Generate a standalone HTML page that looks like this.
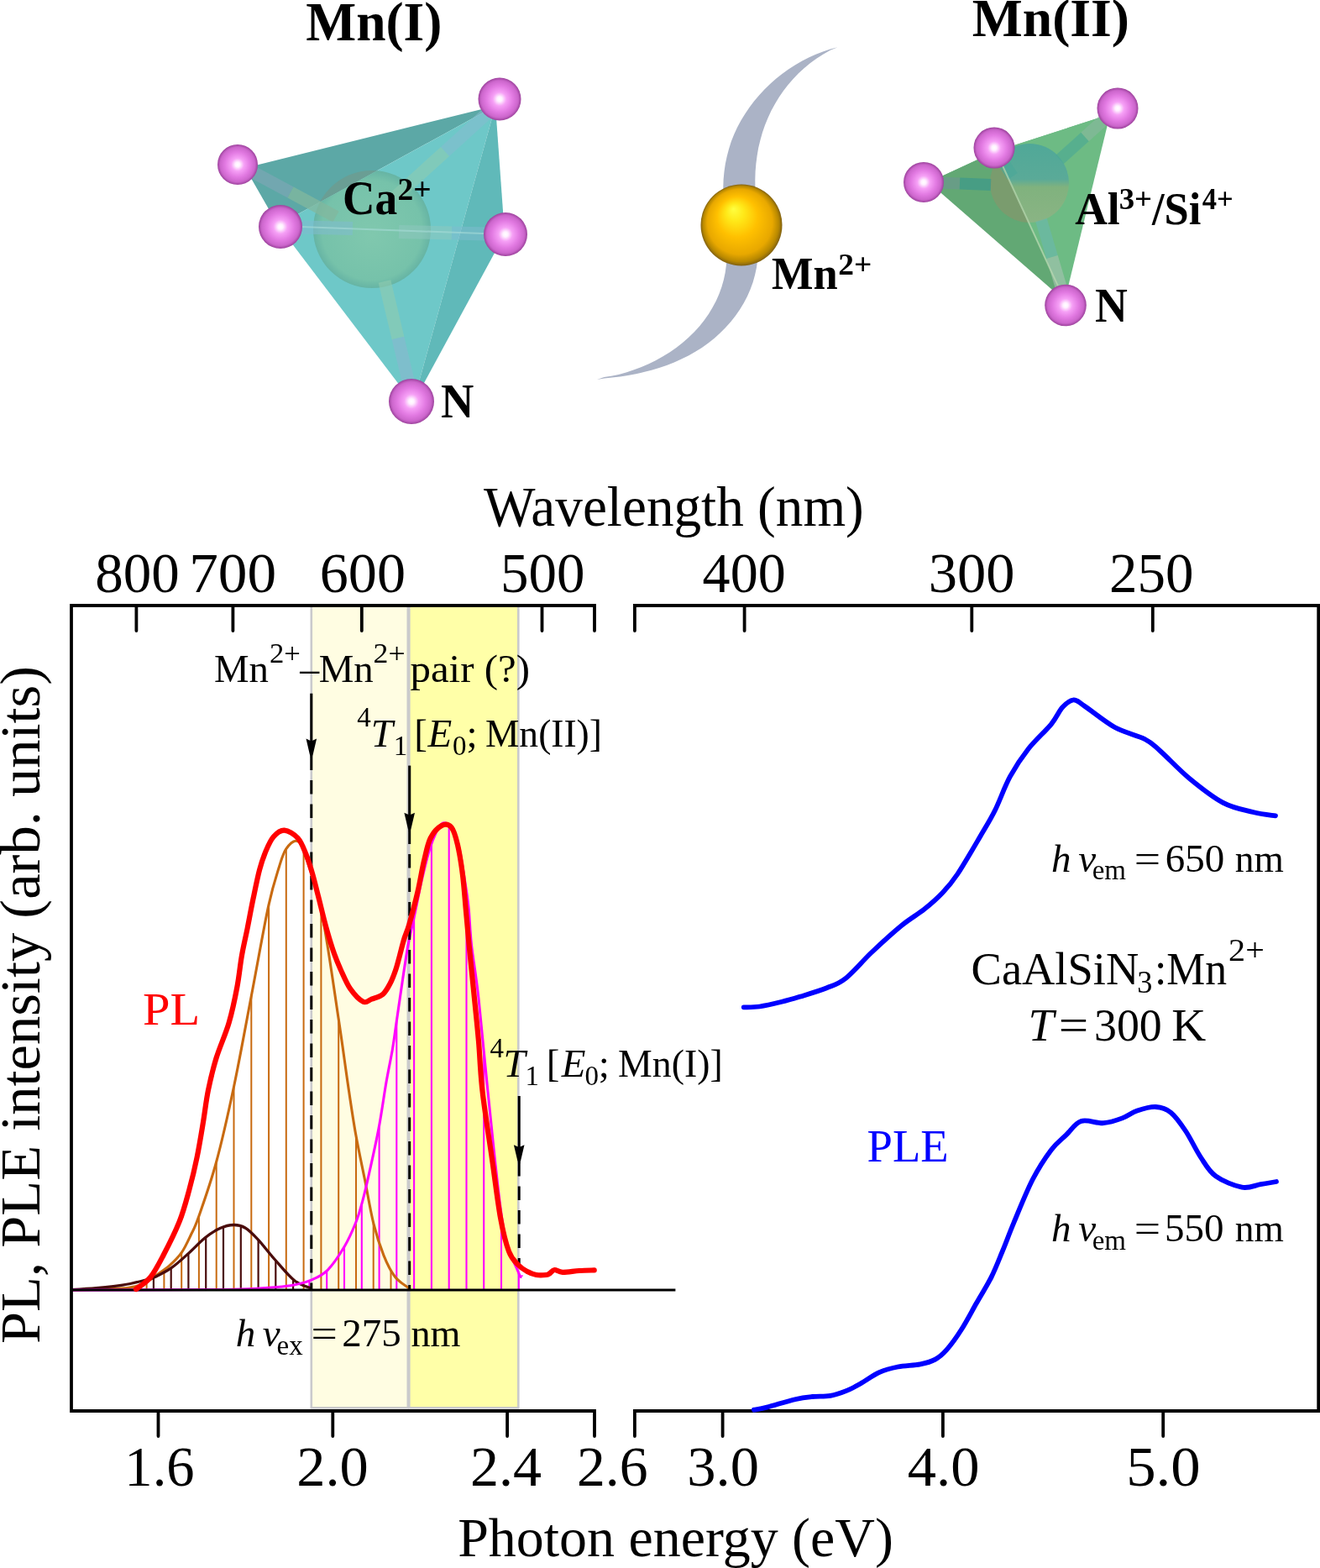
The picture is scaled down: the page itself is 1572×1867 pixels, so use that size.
<!DOCTYPE html><html><head><meta charset="utf-8"><style>html,body{margin:0;padding:0;background:#fff;overflow:hidden}svg{display:block}</style></head><body><svg width="1572" height="1867" viewBox="0 0 1572 1867" font-family="'Liberation Serif', serif">
<rect width="100%" height="100%" fill="#fff"/>
<defs>
<radialGradient id="gN" cx="0.5" cy="0.5" r="0.5" fx="0.5" fy="0.5">
 <stop offset="0" stop-color="#ffffff"/>
 <stop offset="0.12" stop-color="#fff0ff"/>
 <stop offset="0.32" stop-color="#f6a0f6"/>
 <stop offset="0.62" stop-color="#e27ae2"/>
 <stop offset="0.86" stop-color="#cc66cc"/>
 <stop offset="1" stop-color="#9c429c"/>
</radialGradient>
<radialGradient id="gAu" cx="0.5" cy="0.5" r="0.5" fx="0.4" fy="0.3">
 <stop offset="0" stop-color="#ffff40"/>
 <stop offset="0.22" stop-color="#ffe818"/>
 <stop offset="0.5" stop-color="#ffc000"/>
 <stop offset="0.8" stop-color="#e8a800"/>
 <stop offset="0.93" stop-color="#b88800"/>
 <stop offset="1" stop-color="#806010"/>
</radialGradient>
<radialGradient id="gCa" cx="0.5" cy="0.5" r="0.5" fx="0.5" fy="0.55">
 <stop offset="0" stop-color="#80c8ae"/>
 <stop offset="0.85" stop-color="#76c2aa"/>
 <stop offset="1" stop-color="#66b4a4"/>
</radialGradient>
<linearGradient id="gAl" x1="0" y1="0" x2="0" y2="1">
 <stop offset="0" stop-color="#50a898"/>
 <stop offset="0.45" stop-color="#5aaa98"/>
 <stop offset="0.55" stop-color="#80b27e"/>
 <stop offset="1" stop-color="#8ab484"/>
</linearGradient>
</defs>
<clipPath id="cpTop"><polygon points="292,200 590,126 331,268"/></clipPath>
<clipPath id="cpFront"><polygon points="331,268 590,126 492,480"/></clipPath>
<clipPath id="cpRight"><polygon points="590,126 601,279 492,480"/></clipPath>
<polygon points="292,200 590,126 331,268" fill="#5ca8a6"/>
<polygon points="331,268 590,126 492,480" fill="#6ec8c8"/>
<polygon points="590,126 601,279 492,480" fill="#60b9b9"/>
<g clip-path="url(#cpTop)"><circle cx="443" cy="273" r="70" fill="#6a9e94"/></g>
<g clip-path="url(#cpFront)"><circle cx="443" cy="273" r="70" fill="url(#gCa)"/></g>
<g clip-path="url(#cpRight)"><circle cx="443" cy="273" r="70" fill="#72bcaa"/></g>
<line x1="292" y1="200" x2="346.0" y2="229.0" stroke="#7aa7b4" stroke-width="15" opacity="0.75"/>
<line x1="346.0" y1="229.0" x2="400" y2="258" stroke="#82b89e" stroke-width="15" opacity="0.75"/>
<line x1="590" y1="126" x2="530.0" y2="180.5" stroke="#86bcd0" stroke-width="15" opacity="0.55"/>
<line x1="530.0" y1="180.5" x2="470" y2="235" stroke="#90ccb0" stroke-width="15" opacity="0.55"/>
<line x1="336" y1="270" x2="378.0" y2="271.0" stroke="#80bcd0" stroke-width="16" opacity="0.55"/>
<line x1="378.0" y1="271.0" x2="420" y2="272" stroke="#80bcd0" stroke-width="16" opacity="0.55"/>
<line x1="475" y1="276" x2="538.0" y2="277.5" stroke="#90c8c0" stroke-width="16" opacity="0.5"/>
<line x1="538.0" y1="277.5" x2="601" y2="279" stroke="#80bcd0" stroke-width="16" opacity="0.5"/>
<line x1="458" y1="335" x2="474.0" y2="402.5" stroke="#90ccb0" stroke-width="15" opacity="0.6"/>
<line x1="474.0" y1="402.5" x2="490" y2="470" stroke="#8ab8d0" stroke-width="15" opacity="0.6"/>
<line x1="331" y1="269" x2="601" y2="279" stroke="#a8dcd8" stroke-width="2" opacity="0.6"/>
<circle cx="283" cy="196" r="24" fill="url(#gN)"/>
<circle cx="595" cy="118" r="25.5" fill="url(#gN)"/>
<circle cx="334" cy="270" r="26" fill="url(#gN)"/>
<circle cx="602" cy="279" r="26" fill="url(#gN)"/>
<circle cx="490" cy="478" r="27" fill="url(#gN)"/>
<path d="M997.6,56.3 L988.7,58.5 L980.0,61.4 L971.5,64.7 L963.1,68.5 L954.9,72.7 L946.8,77.4 L939.0,82.5 L931.4,88.0 L924.1,93.8 L917.1,100.0 L910.4,106.5 L904.0,113.4 L898.0,120.5 L892.4,128.0 L887.2,135.7 L882.4,143.6 L878.0,151.7 L874.2,160.1 L870.8,168.6 L868.0,177.4 L865.7,186.2 L863.8,195.2 L862.5,204.3 L861.6,213.5 L861.3,222.8 L861.4,232.1 L861.8,241.5 L862.5,250.9 L863.3,260.3 L864.1,269.6 L864.8,279.0 L865.4,288.2 L865.7,297.4 L865.5,306.5 L864.9,315.5 L863.7,324.4 L861.9,333.1 L859.4,341.7 L856.4,350.0 L852.8,358.2 L848.6,366.1 L844.0,373.8 L838.7,381.3 L833.0,388.4 L826.8,395.3 L820.1,401.8 L813.0,408.1 L805.4,413.9 L797.5,419.4 L789.2,424.5 L780.8,429.2 L772.1,433.5 L763.3,437.3 L754.4,440.6 L745.6,443.5 L736.7,445.9 L728.0,447.7 L719.5,449.0 L710.9,452.1 L710.9,452.1 L719.6,450.4 L729.0,449.6 L738.5,448.4 L747.9,447.0 L757.3,445.2 L766.7,443.1 L775.9,440.7 L785.0,438.0 L794.0,434.9 L802.9,431.4 L811.5,427.6 L819.9,423.4 L828.1,418.8 L835.9,413.9 L843.5,408.5 L850.8,402.7 L857.6,396.6 L864.1,390.1 L870.2,383.2 L875.9,376.1 L881.1,368.6 L885.8,360.8 L890.0,352.8 L893.6,344.5 L896.7,336.0 L899.1,327.3 L901.0,318.4 L902.2,309.3 L902.8,300.1 L903.0,290.8 L902.8,281.3 L902.4,271.8 L901.8,262.2 L901.1,252.5 L900.4,242.8 L899.8,233.2 L899.4,223.5 L899.3,213.9 L899.6,204.3 L900.4,194.8 L901.6,185.4 L903.2,176.1 L905.4,166.9 L907.9,157.9 L911.0,149.1 L914.5,140.5 L918.4,132.1 L922.8,123.9 L927.6,116.0 L932.9,108.3 L938.5,101.0 L944.6,94.0 L951.0,87.3 L957.9,81.0 L965.1,75.0 L972.7,69.5 L980.6,64.4 L988.9,59.7 L997.6,56.3 Z" fill="#abb3c6"/>
<circle cx="883" cy="268" r="48.5" fill="url(#gAu)"/>
<clipPath id="cpL"><polygon points="1106,217 1186,180 1268,358"/></clipPath>
<clipPath id="cpR"><polygon points="1186,180 1322,136 1268,358"/></clipPath>
<polygon points="1106,217 1186,180 1322,136" fill="#6bb882"/>
<polygon points="1106,217 1186,180 1268,358" fill="#62a874"/>
<polygon points="1186,180 1322,136 1268,358" fill="#6dbb84"/>
<g clip-path="url(#cpL)"><circle cx="1226" cy="218" r="47" fill="#7a9c6e"/></g>
<g clip-path="url(#cpR)"><circle cx="1226" cy="218" r="47" fill="url(#gAl)"/></g>
<line x1="1106" y1="217" x2="1143.0" y2="218.5" stroke="#6a9a8c" stroke-width="14" opacity="0.75"/>
<line x1="1143.0" y1="218.5" x2="1180" y2="220" stroke="#3e9a8a" stroke-width="14" opacity="0.75"/>
<line x1="1322" y1="136" x2="1292.0" y2="163.0" stroke="#8ab8a0" stroke-width="14" opacity="0.6"/>
<line x1="1292.0" y1="163.0" x2="1262" y2="190" stroke="#4aa896" stroke-width="14" opacity="0.6"/>
<line x1="1186" y1="180" x2="1196.0" y2="195.0" stroke="#4aa898" stroke-width="14" opacity="0.6"/>
<line x1="1196.0" y1="195.0" x2="1206" y2="210" stroke="#4aa898" stroke-width="14" opacity="0.6"/>
<line x1="1240" y1="262" x2="1253.0" y2="306.0" stroke="#6ab8b0" stroke-width="14" opacity="0.6"/>
<line x1="1253.0" y1="306.0" x2="1266" y2="350" stroke="#a8c4b4" stroke-width="14" opacity="0.6"/>
<line x1="1186" y1="180" x2="1268" y2="358" stroke="#b8d8b0" stroke-width="2" opacity="0.7"/>
<circle cx="1331" cy="129" r="24.5" fill="url(#gN)"/>
<circle cx="1184" cy="176" r="24.5" fill="url(#gN)"/>
<circle cx="1100" cy="217" r="24" fill="url(#gN)"/>
<circle cx="1269" cy="363.5" r="24.8" fill="url(#gN)"/>
<rect x="370.8" y="721" width="115" height="955.3" fill="#fffde2" stroke="#cacacc" stroke-width="2.6"/>
<rect x="487.3" y="721" width="130" height="955.3" fill="#ffffa8" stroke="#cacacc" stroke-width="2.6"/>
<line x1="153.8" y1="1533.3" x2="153.8" y2="1536.1" stroke="#c86a10" stroke-width="2"/>
<line x1="174.6" y1="1526.7" x2="174.6" y2="1536.1" stroke="#c86a10" stroke-width="2"/>
<line x1="195.4" y1="1512.1" x2="195.4" y2="1536.1" stroke="#c86a10" stroke-width="2"/>
<line x1="216.2" y1="1491.6" x2="216.2" y2="1536.1" stroke="#c86a10" stroke-width="2"/>
<line x1="236.9" y1="1447.7" x2="236.9" y2="1536.1" stroke="#c86a10" stroke-width="2"/>
<line x1="257.7" y1="1383.2" x2="257.7" y2="1536.1" stroke="#c86a10" stroke-width="2"/>
<line x1="278.5" y1="1294.0" x2="278.5" y2="1536.1" stroke="#c86a10" stroke-width="2"/>
<line x1="299.3" y1="1186.1" x2="299.3" y2="1536.1" stroke="#c86a10" stroke-width="2"/>
<line x1="320.1" y1="1077.2" x2="320.1" y2="1536.1" stroke="#c86a10" stroke-width="2"/>
<line x1="340.8" y1="1010.7" x2="340.8" y2="1536.1" stroke="#c86a10" stroke-width="2"/>
<line x1="361.6" y1="1012.9" x2="361.6" y2="1536.1" stroke="#c86a10" stroke-width="2"/>
<line x1="382.4" y1="1083.1" x2="382.4" y2="1536.1" stroke="#c86a10" stroke-width="2"/>
<line x1="403.2" y1="1213.2" x2="403.2" y2="1536.1" stroke="#c86a10" stroke-width="2"/>
<line x1="424.0" y1="1352.3" x2="424.0" y2="1536.1" stroke="#c86a10" stroke-width="2"/>
<line x1="444.7" y1="1456.3" x2="444.7" y2="1536.1" stroke="#c86a10" stroke-width="2"/>
<line x1="465.5" y1="1512.9" x2="465.5" y2="1536.1" stroke="#c86a10" stroke-width="2"/>
<line x1="486.3" y1="1533.3" x2="486.3" y2="1536.1" stroke="#c86a10" stroke-width="2"/>
<line x1="182.9" y1="1521.2" x2="182.9" y2="1536.1" stroke="#4a0c0c" stroke-width="2.2"/>
<line x1="203.7" y1="1510.0" x2="203.7" y2="1536.1" stroke="#4a0c0c" stroke-width="2.2"/>
<line x1="224.4" y1="1492.5" x2="224.4" y2="1536.1" stroke="#4a0c0c" stroke-width="2.2"/>
<line x1="245.2" y1="1473.0" x2="245.2" y2="1536.1" stroke="#4a0c0c" stroke-width="2.2"/>
<line x1="266.0" y1="1460.9" x2="266.0" y2="1536.1" stroke="#4a0c0c" stroke-width="2.2"/>
<line x1="286.8" y1="1459.6" x2="286.8" y2="1536.1" stroke="#4a0c0c" stroke-width="2.2"/>
<line x1="307.6" y1="1476.2" x2="307.6" y2="1536.1" stroke="#4a0c0c" stroke-width="2.2"/>
<line x1="328.3" y1="1500.9" x2="328.3" y2="1536.1" stroke="#4a0c0c" stroke-width="2.2"/>
<line x1="349.1" y1="1523.4" x2="349.1" y2="1536.1" stroke="#4a0c0c" stroke-width="2.2"/>
<line x1="369.9" y1="1533.7" x2="369.9" y2="1536.1" stroke="#4a0c0c" stroke-width="2.2"/>
<line x1="617.8" y1="1516.0" x2="617.8" y2="1536.1" stroke="#ff00ff" stroke-width="2.1"/>
<line x1="597.0" y1="1445.9" x2="597.0" y2="1536.1" stroke="#ff00ff" stroke-width="2.1"/>
<line x1="576.2" y1="1252.7" x2="576.2" y2="1536.1" stroke="#ff00ff" stroke-width="2.1"/>
<line x1="555.5" y1="1060.6" x2="555.5" y2="1536.1" stroke="#ff00ff" stroke-width="2.1"/>
<line x1="534.7" y1="981.9" x2="534.7" y2="1536.1" stroke="#ff00ff" stroke-width="2.1"/>
<line x1="513.9" y1="1004.1" x2="513.9" y2="1536.1" stroke="#ff00ff" stroke-width="2.1"/>
<line x1="493.1" y1="1092.2" x2="493.1" y2="1536.1" stroke="#ff00ff" stroke-width="2.1"/>
<line x1="472.3" y1="1215.6" x2="472.3" y2="1536.1" stroke="#ff00ff" stroke-width="2.1"/>
<line x1="451.6" y1="1340.6" x2="451.6" y2="1536.1" stroke="#ff00ff" stroke-width="2.1"/>
<line x1="430.8" y1="1433.6" x2="430.8" y2="1536.1" stroke="#ff00ff" stroke-width="2.1"/>
<line x1="410.0" y1="1484.5" x2="410.0" y2="1536.1" stroke="#ff00ff" stroke-width="2.1"/>
<line x1="389.2" y1="1513.2" x2="389.2" y2="1536.1" stroke="#ff00ff" stroke-width="2.1"/>
<line x1="368.4" y1="1525.1" x2="368.4" y2="1536.1" stroke="#ff00ff" stroke-width="2.1"/>
<path d="M85.0,1536.1 C90.8,1535.9 108.6,1535.5 120.0,1535.0 C131.4,1534.5 144.5,1534.6 153.2,1533.4 C161.9,1532.2 166.6,1530.5 172.0,1528.0 C177.4,1525.5 181.0,1521.9 185.8,1518.5 C190.6,1515.1 195.9,1512.2 201.0,1507.7 C206.1,1503.2 211.9,1497.7 216.3,1491.4 C220.7,1485.1 224.1,1477.1 227.5,1470.0 C230.9,1462.9 231.5,1463.3 236.5,1449.0 C241.5,1434.7 250.5,1409.8 257.5,1384.0 C264.5,1358.2 271.5,1327.2 278.5,1294.0 C285.5,1260.8 292.6,1220.9 299.5,1185.0 C306.4,1149.1 314.2,1104.1 319.8,1078.4 C325.4,1052.7 329.4,1042.2 332.8,1031.0 C336.2,1019.8 337.2,1016.2 340.5,1011.2 C343.8,1006.2 349.1,1000.7 352.7,1001.3 C356.3,1001.9 357.3,1000.9 362.4,1015.0 C367.4,1029.1 376.2,1053.2 383.0,1086.0 C389.8,1118.8 397.8,1178.0 403.0,1212.0 C408.2,1246.0 410.8,1267.0 414.2,1290.0 C417.6,1313.0 420.2,1331.3 423.6,1350.3 C427.0,1369.3 430.7,1385.9 434.3,1403.8 C437.9,1421.7 441.2,1442.2 445.0,1457.4 C448.8,1472.6 452.8,1484.4 457.0,1494.9 C461.2,1505.4 465.5,1513.9 470.4,1520.3 C475.3,1526.7 483.8,1531.3 486.5,1533.5" fill="none" stroke="#c86a10" stroke-width="3.1"/>
<path d="M85.0,1535.6 C89.9,1535.3 106.2,1534.3 114.5,1533.6 C122.8,1532.9 128.1,1532.4 134.9,1531.6 C141.7,1530.8 148.8,1529.8 155.2,1528.5 C161.6,1527.2 168.5,1525.4 173.6,1524.0 C178.7,1522.6 180.7,1522.3 185.8,1519.9 C190.9,1517.5 197.8,1514.1 204.1,1509.7 C210.4,1505.3 216.8,1499.4 223.4,1493.4 C230.1,1487.5 237.6,1479.2 244.0,1474.0 C250.4,1468.8 256.2,1465.1 262.0,1462.5 C267.8,1459.9 273.5,1458.6 278.5,1458.5 C283.5,1458.4 287.2,1459.2 292.0,1462.0 C296.8,1464.8 301.0,1469.2 307.0,1475.6 C313.0,1482.0 320.7,1492.3 328.0,1500.5 C335.3,1508.7 343.8,1519.4 351.0,1525.0 C358.2,1530.6 367.7,1532.6 371.0,1534.1" fill="none" stroke="#4a0c0c" stroke-width="3.3"/>
<path d="M85.0,1536.1 C112.5,1536.0 214.2,1535.8 250.0,1535.5 C285.8,1535.2 286.7,1535.0 300.0,1534.5 C313.3,1534.0 321.7,1533.2 330.0,1532.5 C338.3,1531.8 343.3,1531.3 350.0,1530.0 C356.7,1528.7 363.3,1527.4 370.0,1524.4 C376.7,1521.5 383.4,1519.0 390.1,1512.3 C396.8,1505.6 404.6,1493.6 410.2,1484.2 C415.8,1474.8 420.0,1464.9 423.6,1456.0 C427.2,1447.1 428.9,1440.4 431.6,1430.6 C434.3,1420.8 436.4,1411.6 439.6,1397.1 C442.8,1382.6 447.6,1361.7 451.0,1343.6 C454.4,1325.5 457.3,1304.2 460.0,1288.6 C462.7,1273.0 465.2,1262.3 467.3,1250.0 C469.4,1237.7 470.6,1227.8 472.5,1214.5 C474.4,1201.2 476.8,1184.8 479.0,1170.0 C481.2,1155.2 483.6,1138.7 486.0,1125.4 C488.4,1112.1 490.8,1103.4 493.6,1090.0 C496.4,1076.6 499.9,1058.3 503.0,1045.0 C506.1,1031.7 509.3,1018.8 512.0,1010.0 C514.7,1001.2 516.7,996.8 519.0,992.0 C521.3,987.2 523.7,982.8 526.0,981.0 C528.3,979.2 530.7,979.8 533.0,981.0 C535.3,982.2 537.7,983.2 540.0,988.0 C542.3,992.8 544.8,1000.5 547.0,1010.0 C549.2,1019.5 551.2,1033.3 553.0,1045.0 C554.8,1056.7 556.6,1066.7 558.0,1080.0 C559.4,1093.3 559.5,1106.8 561.5,1125.0 C563.5,1143.2 566.8,1159.8 570.0,1189.0 C573.2,1218.2 576.2,1255.0 581.0,1300.0 C585.8,1345.0 593.0,1423.1 599.0,1458.8 C605.0,1494.5 613.2,1503.8 617.0,1514.0 C620.8,1524.2 621.2,1519.0 622.0,1520.0" fill="none" stroke="#ff00ff" stroke-width="3.1"/>
<line x1="85" y1="1536.1" x2="804.4" y2="1536.1" stroke="#000" stroke-width="3"/>
<line x1="370.8" y1="825.7" x2="370.8" y2="884.4" stroke="#000" stroke-width="3.1"/>
<path d="M364.5,879.6 L370.8,882.4 L377.1,879.6 L372.0,901.4 L370.8,902.4 L369.6,901.4 Z" fill="#000"/>
<line x1="370.8" y1="900.4" x2="370.8" y2="1536.1" stroke="#000" stroke-width="3" stroke-dasharray="16.5,12"/>
<line x1="487.7" y1="911.6" x2="487.7" y2="972.6" stroke="#000" stroke-width="3.1"/>
<path d="M481.4,967.8000000000001 L487.7,970.6 L494.0,967.8000000000001 L488.9,989.6 L487.7,990.6 L486.5,989.6 Z" fill="#000"/>
<line x1="487.7" y1="988.6" x2="487.7" y2="1536.1" stroke="#000" stroke-width="3" stroke-dasharray="16.5,12"/>
<line x1="618.2" y1="1305" x2="618.2" y2="1368" stroke="#000" stroke-width="3.1"/>
<path d="M611.9000000000001,1363.2 L618.2,1366 L624.5,1363.2 L619.4000000000001,1385 L618.2,1386 L617.0,1385 Z" fill="#000"/>
<line x1="618.2" y1="1384" x2="618.2" y2="1505" stroke="#000" stroke-width="3" stroke-dasharray="16.5,12"/>
<path d="M162.0,1535.0 C164.8,1532.7 173.6,1527.7 179.0,1521.0 C184.4,1514.3 188.7,1505.8 194.5,1494.7 C200.3,1483.7 208.5,1467.5 213.6,1454.7 C218.7,1441.9 221.5,1430.8 225.0,1418.0 C228.5,1405.2 231.8,1391.7 234.6,1378.0 C237.4,1364.3 239.8,1349.3 242.0,1336.0 C244.2,1322.7 245.4,1310.7 248.0,1298.0 C250.6,1285.3 253.4,1273.4 257.5,1260.0 C261.6,1246.6 268.6,1231.7 272.7,1217.6 C276.8,1203.5 279.8,1188.9 282.3,1175.6 C284.9,1162.2 285.9,1149.3 288.0,1137.5 C290.1,1125.7 292.5,1116.1 294.7,1105.0 C296.9,1093.9 299.0,1082.2 301.4,1070.7 C303.8,1059.2 306.5,1045.5 309.0,1036.0 C311.5,1026.5 313.8,1020.1 316.6,1013.4 C319.4,1006.7 322.3,1000.1 326.0,996.0 C329.7,991.9 333.8,988.3 338.6,988.6 C343.4,988.9 350.5,993.3 354.8,998.0 C359.1,1002.7 361.5,1010.0 364.4,1017.0 C367.3,1024.0 369.6,1031.7 372.0,1040.0 C374.4,1048.3 376.2,1056.2 379.0,1067.0 C381.8,1077.8 385.4,1093.6 388.6,1105.0 C391.8,1116.4 395.1,1127.3 398.0,1135.6 C400.9,1143.9 402.6,1147.7 405.8,1154.7 C409.0,1161.7 412.9,1171.2 417.3,1177.6 C421.8,1183.9 428.3,1190.8 432.5,1192.8 C436.7,1194.8 438.6,1191.1 442.5,1189.6 C446.4,1188.1 452.2,1187.0 456.0,1183.8 C459.8,1180.6 462.4,1175.2 465.0,1170.3 C467.6,1165.4 469.6,1159.6 471.4,1154.3 C473.2,1149.0 474.3,1144.1 475.9,1138.2 C477.5,1132.3 479.1,1125.3 481.0,1118.9 C482.9,1112.5 484.8,1109.5 487.5,1100.0 C490.2,1090.5 494.5,1074.5 497.4,1062.0 C500.3,1049.5 502.4,1035.7 505.0,1025.0 C507.6,1014.3 509.2,1005.0 512.7,998.0 C516.2,991.0 521.9,985.2 526.0,983.0 C530.1,980.8 534.3,981.2 537.5,985.0 C540.7,988.8 542.8,996.5 545.0,1006.0 C547.2,1015.5 549.4,1029.3 551.0,1042.0 C552.6,1054.7 553.5,1068.3 554.7,1082.0 C556.0,1095.7 556.8,1106.2 558.5,1124.0 C560.2,1141.8 563.1,1169.7 565.0,1189.0 C566.9,1208.3 568.4,1221.5 570.0,1240.0 C571.6,1258.5 571.9,1276.7 574.6,1300.0 C577.3,1323.3 582.4,1355.0 586.0,1380.0 C589.6,1405.0 592.7,1431.7 596.0,1450.0 C599.3,1468.3 602.5,1480.7 606.0,1490.0 C609.5,1499.3 613.3,1502.0 617.0,1506.0 C620.7,1510.0 624.4,1512.0 628.0,1514.0 C631.6,1516.0 635.0,1517.3 638.7,1518.0 C642.5,1518.7 647.8,1518.3 650.5,1518.0 C653.2,1517.7 653.4,1517.0 655.0,1516.0 C656.6,1515.0 657.9,1512.2 660.4,1512.0 C662.9,1511.8 665.1,1514.6 670.0,1514.8 C674.9,1515.0 683.7,1513.4 690.0,1513.0 C696.3,1512.6 704.8,1512.5 707.7,1512.4" fill="none" stroke="#ff0000" stroke-width="6.2" stroke-linejoin="round" stroke-linecap="round"/>
<path d="M708,751 L708,721 L85,721 L85,1680 L708,1680 L708,1710" stroke="#000" stroke-width="3.8" stroke-linecap="round" fill="none"/>
<path d="M755.9,751 L755.9,721 L1570.2,721 L1570.2,1680 L755.9,1680 L755.9,1710" stroke="#000" stroke-width="3.8" stroke-linecap="round" fill="none"/>
<line x1="162.4" y1="721" x2="162.4" y2="751" stroke="#000" stroke-width="3.8" stroke-linecap="round" fill="none"/>
<line x1="277.4" y1="721" x2="277.4" y2="751" stroke="#000" stroke-width="3.8" stroke-linecap="round" fill="none"/>
<line x1="430.8" y1="721" x2="430.8" y2="751" stroke="#000" stroke-width="3.8" stroke-linecap="round" fill="none"/>
<line x1="645.5" y1="721" x2="645.5" y2="751" stroke="#000" stroke-width="3.8" stroke-linecap="round" fill="none"/>
<line x1="886.6" y1="721" x2="886.6" y2="751" stroke="#000" stroke-width="3.8" stroke-linecap="round" fill="none"/>
<line x1="1157.3" y1="721" x2="1157.3" y2="751" stroke="#000" stroke-width="3.8" stroke-linecap="round" fill="none"/>
<line x1="1372.8" y1="721" x2="1372.8" y2="751" stroke="#000" stroke-width="3.8" stroke-linecap="round" fill="none"/>
<line x1="188.5" y1="1680" x2="188.5" y2="1710" stroke="#000" stroke-width="3.8" stroke-linecap="round" fill="none"/>
<line x1="396.3" y1="1680" x2="396.3" y2="1710" stroke="#000" stroke-width="3.8" stroke-linecap="round" fill="none"/>
<line x1="604.1" y1="1680" x2="604.1" y2="1710" stroke="#000" stroke-width="3.8" stroke-linecap="round" fill="none"/>
<line x1="860.6" y1="1680" x2="860.6" y2="1710" stroke="#000" stroke-width="3.8" stroke-linecap="round" fill="none"/>
<line x1="1122.9" y1="1680" x2="1122.9" y2="1710" stroke="#000" stroke-width="3.8" stroke-linecap="round" fill="none"/>
<line x1="1385.2" y1="1680" x2="1385.2" y2="1710" stroke="#000" stroke-width="3.8" stroke-linecap="round" fill="none"/>
<path d="M885.8,1199.4 C888.9,1199.2 896.9,1199.6 904.5,1198.5 C912.1,1197.4 923.0,1194.8 931.2,1192.8 C939.4,1190.8 944.6,1189.2 953.5,1186.5 C962.4,1183.8 975.8,1179.9 984.7,1176.3 C993.6,1172.7 998.1,1172.0 1007.0,1165.0 C1015.9,1158.0 1026.9,1144.5 1038.0,1134.0 C1049.1,1123.5 1063.3,1110.5 1073.7,1102.0 C1084.1,1093.5 1092.3,1089.3 1100.5,1082.8 C1108.7,1076.2 1116.0,1069.8 1122.7,1062.7 C1129.4,1055.7 1133.1,1051.6 1140.5,1040.5 C1147.9,1029.4 1159.9,1008.6 1167.3,996.0 C1174.7,983.4 1179.1,976.7 1185.0,964.8 C1190.9,952.9 1196.2,937.0 1202.9,924.7 C1209.6,912.5 1216.8,901.7 1225.0,891.3 C1233.2,880.9 1245.2,870.5 1251.9,862.3 C1258.6,854.1 1260.8,847.1 1265.2,842.3 C1269.7,837.5 1274.1,833.6 1278.6,833.4 C1283.1,833.2 1283.8,835.6 1292.0,841.0 C1300.2,846.4 1315.7,859.5 1327.6,866.0 C1339.5,872.5 1354.3,875.4 1363.2,880.0 C1372.1,884.6 1372.1,885.7 1381.0,893.5 C1389.9,901.3 1404.0,916.6 1416.6,927.0 C1429.2,937.4 1444.1,949.2 1456.7,955.9 C1469.3,962.6 1481.9,964.4 1492.3,967.0 C1502.7,969.6 1514.5,970.7 1519.0,971.4" fill="none" stroke="#0000ff" stroke-width="5.8" stroke-linejoin="round" stroke-linecap="round"/>
<path d="M897.8,1678.7 C900.4,1678.2 905.2,1677.7 913.4,1675.6 C921.6,1673.5 937.9,1668.3 946.8,1666.2 C955.7,1664.1 959.9,1663.7 966.9,1663.0 C973.9,1662.3 982.3,1662.9 989.0,1661.8 C995.7,1660.7 1001.0,1658.8 1007.0,1656.4 C1013.0,1654.0 1018.1,1651.2 1024.8,1647.5 C1031.5,1643.8 1039.6,1637.5 1047.0,1634.2 C1054.4,1630.9 1061.1,1629.1 1069.3,1627.5 C1077.5,1625.9 1088.6,1625.9 1096.0,1624.4 C1103.4,1622.9 1108.6,1621.4 1113.8,1618.6 C1119.0,1615.8 1122.0,1613.3 1127.2,1607.4 C1132.4,1601.5 1139.1,1592.3 1145.0,1583.0 C1150.9,1573.7 1156.9,1562.2 1162.8,1551.8 C1168.7,1541.4 1175.4,1531.0 1180.6,1520.6 C1185.8,1510.2 1189.5,1500.2 1194.0,1489.4 C1198.5,1478.6 1201.4,1470.1 1207.3,1456.0 C1213.2,1441.9 1222.2,1419.3 1229.6,1404.8 C1237.0,1390.3 1245.2,1378.1 1251.9,1369.2 C1258.6,1360.3 1263.8,1357.1 1269.7,1351.4 C1275.6,1345.7 1280.1,1337.4 1287.5,1335.0 C1294.9,1332.6 1306.0,1337.8 1314.2,1337.2 C1322.4,1336.6 1329.8,1333.9 1336.5,1331.4 C1343.2,1329.0 1347.6,1324.7 1354.3,1322.5 C1361.0,1320.3 1369.8,1317.6 1376.5,1318.0 C1383.2,1318.4 1388.5,1319.9 1394.4,1324.7 C1400.4,1329.5 1406.3,1338.1 1412.2,1347.0 C1418.1,1355.9 1424.1,1369.1 1430.0,1378.0 C1435.9,1386.9 1439.6,1394.5 1447.8,1400.4 C1456.0,1406.4 1470.1,1412.1 1479.0,1413.7 C1487.9,1415.3 1494.4,1411.3 1501.2,1410.2 C1508.0,1409.1 1516.9,1407.5 1520.0,1407.0" fill="none" stroke="#0000ff" stroke-width="5.8" stroke-linejoin="round" stroke-linecap="round"/>
<text x="364.21" y="47.70" font-size="65" font-weight="bold" font-style="normal" fill="#000" textLength="162.28" lengthAdjust="spacingAndGlyphs">Mn(I)</text>
<text x="1157.81" y="43.40" font-size="64" font-weight="bold" font-style="normal" fill="#000" textLength="187.18" lengthAdjust="spacingAndGlyphs">Mn(II)</text>
<text x="408.09" y="255.30" font-size="57" font-weight="bold" font-style="normal" fill="#000" textLength="65.21" lengthAdjust="spacingAndGlyphs">Ca</text>
<text x="473.62" y="237.80" font-size="37" font-weight="bold" font-style="normal" fill="#000" textLength="40.14" lengthAdjust="spacingAndGlyphs">2+</text>
<text x="525.06" y="496.70" font-size="56" font-weight="bold" font-style="normal" fill="#000" textLength="39.36" lengthAdjust="spacingAndGlyphs">N</text>
<text x="918.90" y="344.30" font-size="54" font-weight="bold" font-style="normal" fill="#000" textLength="78.69" lengthAdjust="spacingAndGlyphs">Mn</text>
<text x="998.33" y="327.40" font-size="36" font-weight="bold" font-style="normal" fill="#000" textLength="40.03" lengthAdjust="spacingAndGlyphs">2+</text>
<text x="1280.18" y="266.80" font-size="55" font-weight="bold" font-style="normal" fill="#000" textLength="53.54" lengthAdjust="spacingAndGlyphs">Al</text>
<text x="1332.71" y="248.70" font-size="36" font-weight="bold" font-style="normal" fill="#000" textLength="39.41" lengthAdjust="spacingAndGlyphs">3+</text>
<text x="1372.01" y="266.80" font-size="55" font-weight="bold" font-style="normal" fill="#000" textLength="58.36" lengthAdjust="spacingAndGlyphs">/Si</text>
<text x="1431.83" y="248.70" font-size="36" font-weight="bold" font-style="normal" fill="#000" textLength="36.98" lengthAdjust="spacingAndGlyphs">4+</text>
<text x="1303.88" y="382.90" font-size="56" font-weight="bold" font-style="normal" fill="#000" textLength="38.83" lengthAdjust="spacingAndGlyphs">N</text>
<text x="576.04" y="625.50" font-size="68" font-weight="normal" font-style="normal" fill="#000" textLength="452.80" lengthAdjust="spacingAndGlyphs">Wavelength (nm)</text>
<text x="113.25" y="705.00" font-size="67" font-weight="normal" font-style="normal" fill="#000">800</text>
<text x="225.23" y="705.00" font-size="67" font-weight="normal" font-style="normal" fill="#000" textLength="103.90" lengthAdjust="spacingAndGlyphs">700</text>
<text x="380.77" y="705.00" font-size="67" font-weight="normal" font-style="normal" fill="#000" textLength="102.22" lengthAdjust="spacingAndGlyphs">600</text>
<text x="595.92" y="705.00" font-size="67" font-weight="normal" font-style="normal" fill="#000">500</text>
<text x="836.61" y="705.00" font-size="67" font-weight="normal" font-style="normal" fill="#000" textLength="99.11" lengthAdjust="spacingAndGlyphs">400</text>
<text x="1105.72" y="705.00" font-size="67" font-weight="normal" font-style="normal" fill="#000" textLength="102.79" lengthAdjust="spacingAndGlyphs">300</text>
<text x="1321.05" y="705.00" font-size="67" font-weight="normal" font-style="normal" fill="#000">250</text>
<text x="148.35" y="1769.30" font-size="67.7" font-weight="normal" font-style="normal" fill="#000" textLength="83.24" lengthAdjust="spacingAndGlyphs">1.6</text>
<text x="353.19" y="1769.30" font-size="67.7" font-weight="normal" font-style="normal" fill="#000" textLength="85.62" lengthAdjust="spacingAndGlyphs">2.0</text>
<text x="560.01" y="1769.30" font-size="67.7" font-weight="normal" font-style="normal" fill="#000" textLength="85.05" lengthAdjust="spacingAndGlyphs">2.4</text>
<text x="686.92" y="1769.30" font-size="67.7" font-weight="normal" font-style="normal" fill="#000">2.6</text>
<text x="818.32" y="1769.30" font-size="67.7" font-weight="normal" font-style="normal" fill="#000" textLength="85.69" lengthAdjust="spacingAndGlyphs">3.0</text>
<text x="1080.86" y="1769.30" font-size="67.7" font-weight="normal" font-style="normal" fill="#000" textLength="85.65" lengthAdjust="spacingAndGlyphs">4.0</text>
<text x="1341.19" y="1769.30" font-size="67.7" font-weight="normal" font-style="normal" fill="#000" textLength="88.51" lengthAdjust="spacingAndGlyphs">5.0</text>
<text x="545.21" y="1852.50" font-size="66" font-weight="normal" font-style="normal" fill="#000" textLength="518.68" lengthAdjust="spacingAndGlyphs">Photon energy (eV)</text>
<text transform="translate(47,1600.0) rotate(-90)" font-size="68.5" textLength="807.0" lengthAdjust="spacingAndGlyphs">PL, PLE intensity (arb. units)</text>
<text x="255.05" y="812.20" font-size="47" font-weight="normal" font-style="normal" fill="#000" textLength="64.95" lengthAdjust="spacingAndGlyphs">Mn</text>
<text x="320.98" y="788.60" font-size="33" font-weight="normal" font-style="normal" fill="#000" textLength="36.92" lengthAdjust="spacingAndGlyphs">2+</text>
<text x="357.21" y="812.20" font-size="47" font-weight="normal" font-style="normal" fill="#000" textLength="22.87" lengthAdjust="spacingAndGlyphs">–</text>
<text x="379.65" y="812.20" font-size="47" font-weight="normal" font-style="normal" fill="#000" textLength="64.95" lengthAdjust="spacingAndGlyphs">Mn</text>
<text x="444.63" y="788.60" font-size="33" font-weight="normal" font-style="normal" fill="#000" textLength="38.01" lengthAdjust="spacingAndGlyphs">2+</text>
<text x="488.41" y="812.20" font-size="47" font-weight="normal" font-style="normal" fill="#000" textLength="142.64" lengthAdjust="spacingAndGlyphs">pair (?)</text>
<text x="425.26" y="865.20" font-size="33" font-weight="normal" font-style="normal" fill="#000">4</text>
<text x="441.72" y="888.70" font-size="47" font-weight="normal" font-style="italic" fill="#000">T</text>
<text x="468.80" y="899.00" font-size="33" font-weight="normal" font-style="normal" fill="#000">1</text>
<text x="493.31" y="888.70" font-size="47" font-weight="normal" font-style="normal" fill="#000">[</text>
<text x="509.55" y="888.70" font-size="47" font-weight="normal" font-style="italic" fill="#000">E</text>
<text x="539.04" y="899.00" font-size="33" font-weight="normal" font-style="normal" fill="#000">0</text>
<text x="555.47" y="888.70" font-size="47" font-weight="normal" font-style="normal" fill="#000">;</text>
<text x="577.89" y="888.70" font-size="47" font-weight="normal" font-style="normal" fill="#000" textLength="139.09" lengthAdjust="spacingAndGlyphs">Mn(II)]</text>
<text x="583.56" y="1258.50" font-size="33" font-weight="normal" font-style="normal" fill="#000">4</text>
<text x="599.62" y="1282.00" font-size="47" font-weight="normal" font-style="italic" fill="#000">T</text>
<text x="625.60" y="1292.30" font-size="33" font-weight="normal" font-style="normal" fill="#000">1</text>
<text x="650.81" y="1282.00" font-size="47" font-weight="normal" font-style="normal" fill="#000">[</text>
<text x="668.75" y="1282.00" font-size="47" font-weight="normal" font-style="italic" fill="#000">E</text>
<text x="696.44" y="1292.30" font-size="33" font-weight="normal" font-style="normal" fill="#000">0</text>
<text x="712.77" y="1282.00" font-size="47" font-weight="normal" font-style="normal" fill="#000">;</text>
<text x="736.08" y="1282.00" font-size="47" font-weight="normal" font-style="normal" fill="#000" textLength="124.62" lengthAdjust="spacingAndGlyphs">Mn(I)]</text>
<text x="280.80" y="1603.40" font-size="47" font-weight="normal" font-style="italic" fill="#000">h</text>
<text x="312.76" y="1603.40" font-size="47" font-weight="normal" font-style="italic" fill="#000">ν</text>
<text x="329.61" y="1612.60" font-size="33" font-weight="normal" font-style="normal" fill="#000">ex</text>
<text x="370.53" y="1603.40" font-size="47" font-weight="normal" font-style="normal" fill="#000" textLength="31.39" lengthAdjust="spacingAndGlyphs">=</text>
<text x="407.23" y="1603.40" font-size="47" font-weight="normal" font-style="normal" fill="#000">275</text>
<text x="489.44" y="1603.40" font-size="47" font-weight="normal" font-style="normal" fill="#000" textLength="58.98" lengthAdjust="spacingAndGlyphs">nm</text>
<text x="1252.00" y="1037.70" font-size="47" font-weight="normal" font-style="italic" fill="#000">h</text>
<text x="1284.16" y="1037.70" font-size="47" font-weight="normal" font-style="italic" fill="#000">ν</text>
<text x="1300.71" y="1046.90" font-size="33" font-weight="normal" font-style="normal" fill="#000">em</text>
<text x="1350.73" y="1037.70" font-size="47" font-weight="normal" font-style="normal" fill="#000" textLength="31.39" lengthAdjust="spacingAndGlyphs">=</text>
<text x="1387.78" y="1037.70" font-size="47" font-weight="normal" font-style="normal" fill="#000">650</text>
<text x="1470.86" y="1037.70" font-size="47" font-weight="normal" font-style="normal" fill="#000" textLength="58.05" lengthAdjust="spacingAndGlyphs">nm</text>
<text x="1252.00" y="1478.30" font-size="47" font-weight="normal" font-style="italic" fill="#000">h</text>
<text x="1284.16" y="1478.30" font-size="47" font-weight="normal" font-style="italic" fill="#000">ν</text>
<text x="1300.71" y="1487.50" font-size="33" font-weight="normal" font-style="normal" fill="#000">em</text>
<text x="1350.73" y="1478.30" font-size="47" font-weight="normal" font-style="normal" fill="#000" textLength="31.39" lengthAdjust="spacingAndGlyphs">=</text>
<text x="1387.07" y="1478.30" font-size="47" font-weight="normal" font-style="normal" fill="#000">550</text>
<text x="1470.86" y="1478.30" font-size="47" font-weight="normal" font-style="normal" fill="#000" textLength="58.05" lengthAdjust="spacingAndGlyphs">nm</text>
<text x="1156.57" y="1171.80" font-size="55" font-weight="normal" font-style="normal" fill="#000" textLength="199.68" lengthAdjust="spacingAndGlyphs">CaAlSiN</text>
<text x="1354.26" y="1182.00" font-size="38" font-weight="normal" font-style="normal" fill="#000" textLength="18.16" lengthAdjust="spacingAndGlyphs">3</text>
<text x="1374.91" y="1171.80" font-size="55" font-weight="normal" font-style="normal" fill="#000" textLength="86.17" lengthAdjust="spacingAndGlyphs">:Mn</text>
<text x="1463.14" y="1144.30" font-size="38" font-weight="normal" font-style="normal" fill="#000" textLength="42.62" lengthAdjust="spacingAndGlyphs">2+</text>
<text x="1224.40" y="1239.00" font-size="55" font-weight="normal" font-style="italic" fill="#000">T</text>
<text x="1260.76" y="1239.00" font-size="55" font-weight="normal" font-style="normal" fill="#000" textLength="35.51" lengthAdjust="spacingAndGlyphs">=</text>
<text x="1303.02" y="1239.00" font-size="55" font-weight="normal" font-style="normal" fill="#000" textLength="80.72" lengthAdjust="spacingAndGlyphs">300</text>
<text x="1395.36" y="1239.00" font-size="55" font-weight="normal" font-style="normal" fill="#000" textLength="41.02" lengthAdjust="spacingAndGlyphs">K</text>
<text x="170.02" y="1219.80" font-size="55" font-weight="normal" font-style="normal" fill="#ff0000" textLength="68.19" lengthAdjust="spacingAndGlyphs">PL</text>
<text x="1032.53" y="1382.70" font-size="55" font-weight="normal" font-style="normal" fill="#0000ff" textLength="97.09" lengthAdjust="spacingAndGlyphs">PLE</text>
</svg></body></html>
